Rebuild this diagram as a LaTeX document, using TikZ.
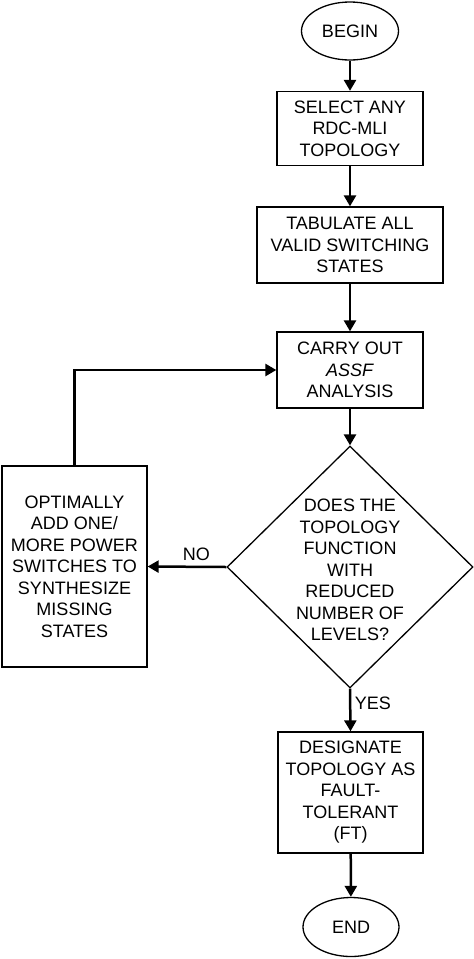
\documentclass[tikz,border=0pt]{standalone}
\usepackage{fontspec}
\setmainfont{Liberation Sans}
\usetikzlibrary{arrows.meta,positioning,shapes.geometric}

\begin{document}
\begin{tikzpicture}[auto,x=1pt,y=-1pt]
  \tikzset{
    >={Triangle[length=11pt,width=12pt]},
    flow/.style={->, line width=2.5pt},
    every node/.style={font=\fontsize{18}{21.5}\selectfont, align=center},
    stepbox/.style={draw, line width=1.3pt, rectangle, minimum width=146pt,
          minimum height=74pt, inner sep=0pt},
    terminal/.style={draw, line width=1.3pt, ellipse, minimum width=97pt,
          minimum height=58pt, inner sep=0pt},
    decision/.style={draw, line width=1.3pt, diamond, minimum width=246pt,
          minimum height=242pt, inner sep=0pt}
  }
  \useasboundingbox (0,0) rectangle (474,959);

  \node[terminal] (begin) at (350,31) {BEGIN};
  \node[stepbox] (select) at (350,128.5) {SELECT ANY\\RDC-MLI\\TOPOLOGY};
  \node[stepbox, minimum width=186pt, minimum height=76pt] (tabulate) at (350,245)
          {TABULATE ALL\\VALID SWITCHING\\STATES};
  \node[stepbox, minimum height=76pt] (carry) at (350,370)
          {CARRY OUT\\\textit{ASSF}\\ANALYSIS};

  \node[decision] (decide) at (350,567) {};
  \node (question) at (350,570) {DOES THE\\TOPOLOGY\\FUNCTION\\WITH\\REDUCED\\NUMBER OF\\LEVELS?};

  \node[stepbox, minimum width=145pt, minimum height=201pt] (optim) at (74.5,566.5)
          {OPTIMALLY\\ADD ONE/\\MORE POWER\\SWITCHES TO\\SYNTHESIZE\\MISSING\\STATES};
  \node[stepbox, minimum width=145pt, minimum height=121pt] (design) at (350.5,792.5)
          {DESIGNATE\\TOPOLOGY AS\\FAULT-\\TOLERANT\\(FT)};
  \node[terminal, minimum width=96pt, minimum height=59pt] (end) at (351,927) {END};

  \draw[flow] (begin) -- (select);
  \draw[flow] (select) -- (tabulate);
  \draw[flow] (tabulate) -- (carry);
  \draw[flow] (carry) -- (decide);
  \draw[flow] (decide.south) -- node[right, pos=0.34] {YES} (design.north);
  \draw[flow] (design) -- (end);
  \draw[flow] (decide.west) -- node[above=2pt, pos=0.38] {NO} (optim.east);
  \draw[flow] (optim.north) |- (carry.west);
\end{tikzpicture}
\end{document}
